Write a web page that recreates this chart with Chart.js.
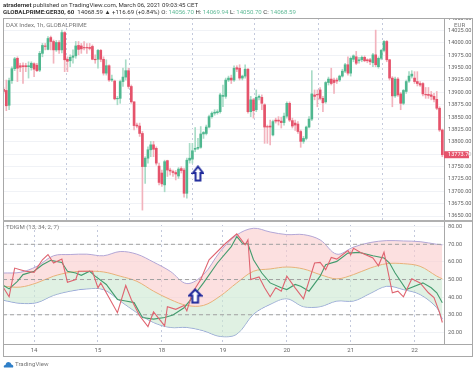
<!DOCTYPE html>
<html>
<head>
<meta charset="utf-8">
<script src="https://cdn.jsdelivr.net/npm/chart.js@4/dist/chart.umd.min.js"></script>
<style>
  html, body { margin: 0; padding: 0; background: #fff; width: 474px; height: 372px; overflow: hidden; }
  #page { position: absolute; left: 0; top: 0; width: 474px; height: 372px; filter: blur(0.35px); font-family: Roboto, sans-serif; }
  canvas { position: absolute; }
  .txt { position: absolute; white-space: pre; font-size: 6.1px; line-height: 8px; color: #333; }
  .grey { color: #777; }
  .up { color: #62bb98; }
  #frame { position: absolute; left: 3px; top: 18px; width: 468px; height: 337px; border: 1px solid #a8a8a8; }
  #sep { position: absolute; left: 3px; top: 220px; width: 469px; height: 1.5px; background: #b0b0b0; }
  #axisline { position: absolute; left: 3px; top: 344px; width: 469px; height: 1px; background: #a8a8a8; }
</style>
</head>
<body>
<div id="page">
  <canvas id="priceChart" width="469" height="202" style="left:3px;top:18px"></canvas>
  <canvas id="oscChart" width="469" height="136" style="left:3px;top:220px"></canvas>
  <div id="frame"></div>
  <div id="sep"></div>
  <div id="axisline"></div>
  <div class="txt" style="left:3px;top:1px"><b>atradernet</b> published on TradingView.com, March 06, 2021 09:03:45 CET</div>
  <div class="txt" style="left:3px;top:8px"><b>GLOBALPRIME:GER30, 60</b>  14068.59 ▲ +116.69 (+0.84%) O: <span class="up">14056.70</span> H: <span class="up">14069.94</span> L: <span class="up">14050.70</span> C: <span class="up">14068.59</span></div>
  <div class="txt grey" style="left:6px;top:21px">DAX Index, 1h, GLOBALPRIME</div>
  <div class="txt grey" style="left:6px;top:223px">TDIGM (13, 34, 2, 7)</div>
  <div class="txt grey" style="left:454px;top:21px">EUR</div>
  <svg style="position:absolute;left:3px;top:361px" width="11" height="7" viewBox="0 0 11 7"><path d="M1 6.5 Q0 4 2.5 4 Q3 1 5.5 1 Q8 1 8.5 3.5 Q11 4 10 6.5 Z" fill="#2f7fc8"/></svg>
  <div class="txt grey" style="left:15px;top:360px">TradingView</div>
</div>
<script>
// bar index of each tick, bars are one hour
var dayTicks = [11, 34, 57, 79, 102, 125, 148];
var dayLabels = ['14', '15', '18', '19', '20', '21', '22'];
var priceTicks = [14050, 14025, 14000, 13975, 13950, 13925, 13900, 13875, 13850, 13825, 13800, 13775, 13750, 13725, 13700, 13675, 13650];
var oscTicks = [80, 70, 60, 50, 40, 30, 20];
var oscLevels = [70, 50, 30];

var candleOpen = [13906, 13904, 13874, 13924, 13948, 13969, 13954, 13954, 13954, 13952, 13950, 13958, 13955, 13945, 13979, 13994, 13987, 14011, 14003, 13986,
  14001, 13986, 14021, 13967, 13964, 13971, 13974, 13995, 13994, 13991, 13991, 13991, 13993, 13967, 13967, 13985, 13967, 13939, 13954, 13925,
  13923, 13887, 13888, 13922, 13931, 13944, 13912, 13881, 13834, 13832, 13817, 13750, 13767, 13784, 13794, 13787, 13751, 13737, 13713, 13762,
  13743, 13740, 13738, 13731, 13746, 13743, 13696, 13763, 13765, 13785, 13787, 13789, 13816, 13817, 13830, 13851, 13858, 13859, 13861, 13892,
  13892, 13925, 13929, 13925, 13950, 13949, 13929, 13933, 13947, 13861, 13885, 13865, 13890, 13890, 13875, 13831, 13832, 13814, 13844, 13844,
  13842, 13839, 13852, 13878, 13843, 13838, 13836, 13821, 13801, 13807, 13830, 13846, 13895, 13896, 13905, 13888, 13881, 13920, 13927, 13925,
  13925, 13925, 13933, 13943, 13956, 13939, 13967, 13972, 13964, 13966, 13971, 13966, 13966, 13960, 13976, 13952, 13969, 13985, 14003, 13966,
  13929, 13893, 13927, 13897, 13878, 13902, 13923, 13933, 13929, 13922, 13918, 13918, 13896, 13896, 13895, 13892, 13886, 13868, 13824];
var candleClose = [13902, 13873, 13924, 13948, 13968, 13949, 13951, 13952, 13952, 13954, 13959, 13947, 13944, 13979, 13995, 13993, 14009, 14003, 13986, 14001,
  13986, 14021, 13966, 13963, 13971, 13974, 13994, 13987, 13988, 13990, 13990, 13989, 13967, 13966, 13985, 13967, 13939, 13954, 13925, 13927,
  13887, 13888, 13922, 13931, 13944, 13912, 13881, 13833, 13832, 13817, 13750, 13767, 13784, 13794, 13785, 13757, 13718, 13715, 13760, 13743,
  13741, 13738, 13735, 13745, 13742, 13696, 13763, 13767, 13782, 13787, 13789, 13816, 13819, 13830, 13851, 13858, 13860, 13861, 13895, 13894,
  13925, 13929, 13925, 13949, 13947, 13929, 13933, 13947, 13861, 13885, 13863, 13890, 13892, 13878, 13830, 13830, 13830, 13841, 13842, 13842,
  13839, 13852, 13878, 13844, 13832, 13834, 13821, 13801, 13807, 13830, 13846, 13897, 13892, 13895, 13888, 13879, 13920, 13927, 13918, 13920,
  13923, 13933, 13943, 13956, 13939, 13969, 13974, 13959, 13966, 13971, 13964, 13964, 13962, 13976, 13956, 13969, 13985, 14003, 13966, 13929,
  13893, 13927, 13895, 13878, 13904, 13922, 13933, 13937, 13922, 13918, 13915, 13897, 13895, 13894, 13892, 13886, 13868, 13824, 13774];
var candleHigh = [13910, 13925, 13929, 13952, 13971, 13972, 13959, 13960, 13959, 13962, 13962, 13960, 13959, 13983, 13999, 13999, 14013, 14014, 14006, 14005,
  14005, 14026, 14023, 13972, 13976, 13986, 14003, 14003, 13999, 14003, 13999, 13999, 13996, 13976, 13987, 13987, 13972, 13966, 13956, 13935,
  13925, 13892, 13925, 13949, 13966, 13949, 13915, 13881, 13838, 13838, 13821, 13770, 13790, 13801, 13801, 13790, 13757, 13743, 13763, 13763,
  13747, 13743, 13742, 13748, 13750, 13747, 13767, 13797, 13797, 13829, 13807, 13831, 13821, 13834, 13854, 13861, 13865, 13865, 13898, 13915,
  13929, 13933, 13935, 13954, 13954, 13956, 13935, 13956, 13948, 13892, 13888, 13905, 13895, 13895, 13877, 13834, 13844, 13844, 13848, 13851,
  13850, 13858, 13881, 13881, 13848, 13844, 13841, 13824, 13811, 13832, 13851, 13944, 13905, 13905, 13910, 13892, 13922, 13931, 13949, 13929,
  13929, 13935, 13947, 13959, 13972, 13972, 13976, 13983, 13971, 13974, 13974, 13968, 13969, 13979, 14026, 13972, 13987, 14005, 14005, 13967,
  13932, 13931, 13930, 13900, 13906, 13925, 13942, 13944, 13942, 13942, 13922, 13920, 13910, 13910, 13902, 13898, 13902, 13871, 13826];
var candleLow = [13898, 13863, 13865, 13918, 13944, 13922, 13942, 13918, 13942, 13929, 13945, 13932, 13942, 13942, 13972, 13986, 13986, 13986, 13959, 13983,
  13979, 13980, 13942, 13942, 13952, 13959, 13969, 13976, 13979, 13986, 13979, 13986, 13966, 13959, 13949, 13962, 13935, 13935, 13922, 13922,
  13885, 13875, 13878, 13912, 13925, 13908, 13878, 13824, 13828, 13811, 13662, 13716, 13757, 13770, 13770, 13753, 13713, 13710, 13699, 13730,
  13733, 13730, 13723, 13726, 13737, 13688, 13686, 13757, 13757, 13780, 13784, 13787, 13807, 13814, 13828, 13848, 13854, 13856, 13858, 13871,
  13888, 13922, 13918, 13922, 13942, 13925, 13925, 13929, 13858, 13851, 13848, 13861, 13885, 13865, 13797, 13797, 13794, 13812, 13838, 13834,
  13828, 13834, 13848, 13841, 13828, 13823, 13817, 13789, 13797, 13804, 13828, 13843, 13885, 13871, 13885, 13861, 13878, 13915, 13915, 13898,
  13918, 13922, 13931, 13940, 13935, 13933, 13962, 13956, 13959, 13962, 13962, 13960, 13956, 13952, 13952, 13949, 13966, 13982, 13962, 13925,
  13871, 13890, 13892, 13865, 13875, 13898, 13920, 13929, 13918, 13913, 13912, 13893, 13888, 13888, 13885, 13881, 13865, 13821, 13770];

// oscillator bands, read every six bars
var bandIdx = [0, 6, 12, 18, 24, 30, 36, 42, 48, 54, 60, 66, 72, 78, 84, 90, 96, 102, 108, 114, 120, 126, 132, 138, 144, 150, 156, 158];
var upperBand = [53.7, 54.1, 57.5, 63.5, 64.2, 64.4, 63.5, 65.9, 64.4, 59.9, 54.7, 47.7, 52.8, 65.9, 75.3, 79.1, 77, 75.5, 75.5, 72.5, 64.4, 68.4, 71, 72.1, 71.9, 71.5, 70, 69.7];
var middleBand = [46.2, 45.7, 48.1, 51.9, 54.1, 54.7, 54.3, 51.9, 49, 43.4, 38.7, 35.3, 35.3, 40.6, 48.1, 54.7, 56, 57.1, 56, 52.8, 50.4, 52.8, 56.5, 59, 59, 57.5, 51.9, 50.4];
var lowerBand = [38.2, 36.5, 36.9, 41, 43.4, 44.7, 44.3, 37.8, 31.2, 25.6, 22.8, 22.8, 20.9, 17.7, 19, 30.3, 35.9, 39.1, 34.6, 34.6, 37.8, 37.8, 42.1, 46.2, 44.3, 41.5, 34, 27.5];

var signalIdx = [0, 2, 5, 7, 11, 14, 17, 21, 23, 26, 28, 31, 33, 37, 41, 44, 47, 50, 54, 58, 61, 65, 68, 72, 77, 82, 84, 86, 88, 90, 93, 96, 100, 102, 105, 107, 110, 114, 116, 120, 124, 128, 133, 137, 139, 141, 145, 148, 151, 154, 156, 158];
var signalLine = [46.6, 44.7, 49, 52.8, 54.7, 58.4, 60.9, 59.7, 54.7, 53.7, 52.4, 54.7, 51.9, 47.2, 38.7, 37.8, 36.9, 28.4, 27.5, 28.4, 29.9, 34, 39.7, 48.1, 59.4, 68.7, 74.4, 70.6, 70.2, 61.2, 53.7, 48.1, 45.3, 44.3, 47.2, 46.2, 43.4, 51.9, 58.4, 60.3, 65, 65.4, 63.5, 62.2, 59.4, 53.7, 44.3, 46.2, 48.1, 45.3, 42.5, 36.8];

var fastIdx = [0, 2, 4, 6, 8, 11, 14, 16, 18, 21, 23, 26, 27, 32, 34, 35, 38, 41, 44, 46, 49, 52, 54, 58, 59, 62, 65, 66, 68, 71, 74, 80, 84, 87, 88, 89, 92, 94, 96, 98, 100, 102, 105, 108, 112, 114, 116, 118, 120, 124, 125, 126, 129, 133, 135, 137, 140, 142, 144, 147, 150, 153, 155, 157, 158];
var fastLine = [45.3, 40.2, 56.5, 55.6, 54.7, 54.1, 61.2, 64.2, 59.4, 61.6, 48.5, 50, 54.7, 54.7, 45.3, 48.1, 39.7, 31.2, 46.6, 38.7, 29.4, 23.3, 31.6, 23.7, 34.6, 33.1, 35.3, 32.2, 42.5, 50, 61.2, 70.6, 75.9, 69.7, 72.5, 50, 51.5, 45.3, 40.2, 45.3, 43.4, 51.9, 45.3, 39.1, 59.4, 59.7, 55.6, 62.5, 61.6, 66.5, 64, 67.8, 65, 62.2, 57.8, 65.5, 42.5, 43.4, 40.2, 50.4, 48.1, 42.5, 39.7, 31.2, 25.6];

// the two blue arrows drawn on the published idea
var priceArrowIdx = [70];
var priceArrowVal = [13736];
var oscArrowIdx = [69];
var oscArrowVal = [40.6];

var xMin = -0.2, xMax = 158.6;
var upColor = '#4fb78f', downColor = '#e5536b';
var upWick = '#a9dcc7', downWick = '#f2b3bd';

function arrowIcon(w, h) {
  var c = document.createElement('canvas');
  c.width = w + 3; c.height = h + 3;
  var g = c.getContext('2d');
  var m = (w + 3) / 2, t = 1.5, b = h + 1.5, sh = w * 0.24, head = h * 0.46;
  g.beginPath();
  g.moveTo(m, t);
  g.lineTo(m + w / 2, t + head);
  g.lineTo(m + sh, t + head);
  g.lineTo(m + sh, b);
  g.lineTo(m - sh, b);
  g.lineTo(m - sh, t + head);
  g.lineTo(m - w / 2, t + head);
  g.closePath();
  g.fillStyle = '#fff';
  g.fill();
  g.lineWidth = 2;
  g.strokeStyle = '#1f2a9c';
  g.stroke();
  return c;
}

function xy(xs, ys) {
  return xs.map(function (x, i) { return { x: x, y: ys[i] }; });
}

function candleWicks() {
  return candleOpen.map(function (o, i) { return { x: i, y: [candleLow[i], candleHigh[i]] }; });
}
function candleBodies() {
  return candleOpen.map(function (o, i) { return { x: i, y: [o, candleClose[i]] }; });
}
function isUp(ctx) {
  return candleClose[ctx.dataIndex] >= candleOpen[ctx.dataIndex];
}

// tick labels must not pull the plot in from the panel edges
function noPadding(scale) {
  scale.paddingTop = 0;
  scale.paddingBottom = 0;
  scale.paddingLeft = 0;
  scale.paddingRight = 0;
  scale._margins = { left: 0, right: 0, top: 0, bottom: 0 };
}

function xScale(showLabels) {
  return {
    type: 'linear',
    offset: false,
    min: xMin,
    max: xMax,
    afterBuildTicks: function (scale) {
      scale.ticks = dayTicks.map(function (v) { return { value: v }; });
    },
    afterFit: function (scale) {
      scale.height = showLabels ? 12 : 0;
      noPadding(scale);
    },
    grid: { color: '#c3c9dc', lineWidth: 1, drawTicks: false },
    border: { display: false, dash: [2, 3] },
    ticks: {
      display: showLabels,
      autoSkip: false,
      maxRotation: 0,
      padding: 3,
      color: '#666',
      font: { size: 6, family: 'Roboto' },
      callback: function (v) { return dayLabels[dayTicks.indexOf(v)]; }
    }
  };
}

function yScale(min, max, tickList) {
  return {
    position: 'right',
    min: min,
    max: max,
    afterBuildTicks: function (scale) {
      scale.ticks = tickList.map(function (v) { return { value: v }; });
    },
    afterFit: function (scale) {
      scale.width = 28;
      noPadding(scale);
    },
    grid: { color: '#f0f2f6', lineWidth: 1, drawTicks: false },
    border: { display: true, color: '#a8a8a8' },
    ticks: {
      autoSkip: false,
      padding: 4,
      color: '#666',
      font: { size: 5.6, family: 'Roboto' },
      callback: function (v) { return v.toFixed(2); }
    }
  };
}

// last price tag sits on the axis, over the tick labels
var lastPriceTag = {
  id: 'lastPriceTag',
  afterDraw: function (chart) {
    var v = candleClose[candleClose.length - 1];
    var y = chart.scales.y.getPixelForValue(v);
    var g = chart.ctx, left = chart.chartArea.right;
    g.save();
    g.fillStyle = '#e5536b';
    g.fillRect(left, y - 3.5, 25, 7);
    g.fillStyle = '#fff';
    g.font = '5.6px Roboto';
    g.textBaseline = 'middle';
    g.fillText('13773.70', left + 4, y);
    g.restore();
  }
};

Chart.defaults.animation = false;

new Chart(document.getElementById('priceChart'), {
  type: 'bar',
  plugins: [lastPriceTag],
  data: {
    datasets: [{
      type: 'scatter',
      data: xy(priceArrowIdx, priceArrowVal),
      pointStyle: arrowIcon(10, 14),
      order: 0
    }, {
      data: candleBodies(),
      grouped: false,
      barThickness: 2,
      backgroundColor: function (ctx) { return isUp(ctx) ? upColor : downColor; },
      order: 1
    }, {
      data: candleWicks(),
      grouped: false,
      barThickness: 1,
      backgroundColor: function (ctx) { return isUp(ctx) ? upWick : downWick; },
      order: 2
    }]
  },
  options: {
    responsive: false,
    layout: { padding: 0, autoPadding: false },
    plugins: { legend: { display: false }, tooltip: { enabled: false } },
    scales: { x: xScale(false), y: yScale(13642, 14050.5, priceTicks) }
  },
});

var levelX = [xMin, xMax];
var oscSets = [{
  type: 'scatter',
  data: xy(oscArrowIdx, oscArrowVal),
  pointStyle: arrowIcon(12, 13),
  order: 0
}, {
  data: xy(fastIdx, fastLine),
  borderColor: '#df6470',
  borderWidth: 1.1,
  pointRadius: 0,
  order: 1
}, {
  data: xy(signalIdx, signalLine),
  borderColor: '#439c6e',
  borderWidth: 1.1,
  pointRadius: 0,
  order: 2
}];
oscLevels.forEach(function (lv) {
  oscSets.push({
    data: xy(levelX, [lv, lv]),
    borderColor: '#a0a0a0',
    borderWidth: 1,
    borderDash: [4, 3],
    pointRadius: 0,
    order: 3
  });
});
var upperAt = oscSets.length;
oscSets.push({
  data: xy(bandIdx, upperBand),
  borderColor: '#b2a6d6',
  borderWidth: 1,
  tension: 0.35,
  pointRadius: 0,
  fill: { target: upperAt + 1 },
  backgroundColor: 'rgba(250, 205, 205, 0.62)',
  order: 5
}, {
  data: xy(bandIdx, middleBand),
  borderColor: '#e8b078',
  borderWidth: 1,
  tension: 0.35,
  pointRadius: 0,
  fill: { target: upperAt + 2 },
  backgroundColor: 'rgba(205, 232, 210, 0.62)',
  order: 4
}, {
  data: xy(bandIdx, lowerBand),
  borderColor: '#8b9ad6',
  borderWidth: 1,
  tension: 0.35,
  pointRadius: 0,
  order: 6
});

new Chart(document.getElementById('oscChart'), {
  type: 'line',
  data: { datasets: oscSets },
  options: {
    responsive: false,
    layout: { padding: 0, autoPadding: false },
    plugins: { legend: { display: false }, tooltip: { enabled: false } },
    scales: { x: xScale(true), y: yScale(13.4, 83.8, oscTicks) }
  }
});
</script>
</body>
</html>
